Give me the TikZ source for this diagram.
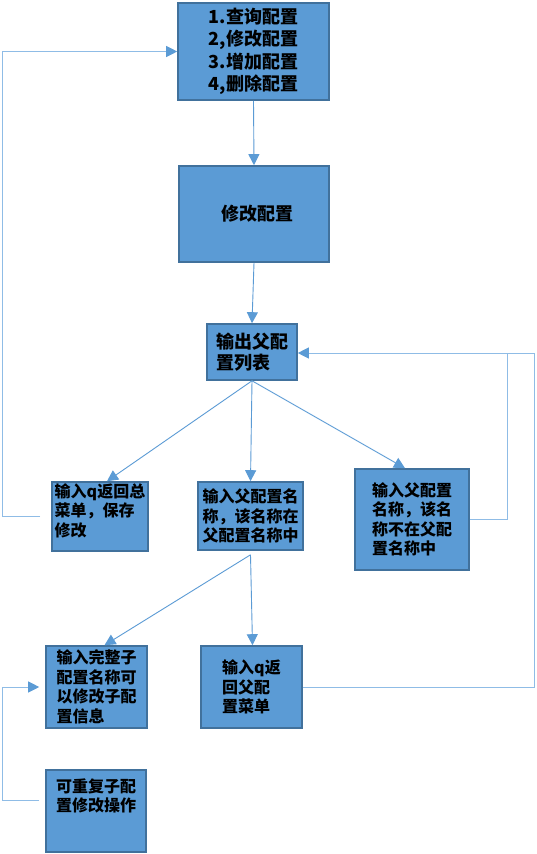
\documentclass[tikz,border=0pt]{standalone}
\usepackage{fontspec}
\setmainfont{Noto Sans CJK SC}
\usetikzlibrary{arrows.meta}
\definecolor{boxfill}{HTML}{5B9BD5}
\definecolor{boxborder}{HTML}{41719C}
\definecolor{lineA}{HTML}{5B9BD5}
\definecolor{lineB}{HTML}{8FBCE6}
\tikzset{
  box/.style={draw=boxborder, fill=boxfill, line width=1.6pt, inner sep=0pt, align=left,
    font=\fontsize{16}{19.5}\selectfont\bfseries, text=black},
  flow/.style={draw=lineA, line width=0.9pt, -{Triangle[length=11pt,width=11pt]}},
  back/.style={draw=lineB, line width=0.9pt},
  backarrow/.style={draw=lineB, line width=0.9pt, -{Triangle[length=11pt,width=11pt,fill=lineA,color=lineA]}}
}
\begin{document}
\begin{tikzpicture}[x=1pt,y=-1pt]
\useasboundingbox (0,0) rectangle (536,854);
\fill[white] (0,0) rectangle (536,854);
% boxes
\node[box, minimum width=151pt, minimum height=97pt, font=\fontsize{18}{22.5}\selectfont\bfseries] (b1) at (253.5,51.5)
  {1.查询配置\\2,修改配置\\3.增加配置\\4,删除配置};
\node[box, minimum width=150pt, minimum height=96pt, font=\fontsize{18}{22}\selectfont\bfseries] (b2) at (254,214) {\hspace*{6pt}修改配置};
\node[box, minimum width=90pt, minimum height=56pt, font=\fontsize{18}{21}\selectfont\bfseries] (b3) at (252,352) {输出父配\\置列表};
\node[box, minimum width=96pt, minimum height=69pt] (b4) at (100,516.5) {输入q返回总\\菜单，保存\\修改\vphantom{菜}\\[-6pt]};
\node[box, minimum width=105pt, minimum height=68pt] (b5) at (250.5,516) {输入父配置名\\称，该名称在\\父配置名称中};
\node[box, minimum width=114pt, minimum height=101pt] (b6) at (412,519.5) {输入父配置\\名称，该名\\称不在父配\\置名称中};
\node[box, minimum width=101pt, minimum height=82pt] (b7) at (96.5,687) {输入完整子\\配置名称可\\以修改子配\\置信息};
\node[box, minimum width=101pt, minimum height=82pt] (b8) at (251.5,687) {输入q返\\回父配\\置菜单};
\node[box, minimum width=100pt, minimum height=82pt] (b9) at (96,811) {可重复子配\\置修改操作\\[12pt]};
% helper coordinates
\coordinate (lx) at (2,300);
\coordinate (rx1) at (507,300);
\coordinate (rx2) at (534,300);
% forward connectors
\draw[flow] (b1.south) -- (b2.north);
\draw[flow] (b2.south) -- (b3.north);
\draw[flow] (b3.south) -- ([xshift=7pt]b4.north);
\draw[flow] (b3.south) -- (b5.north);
\draw[flow] (b3.south) -- ([xshift=-7pt]b6.north);
\draw[flow] ([yshift=-4pt]b5.south) -- ([xshift=8pt]b7.north);
\draw[flow] ([yshift=-4pt]b5.south) -- ([xshift=1pt]b8.north);
% feedback connectors
\draw[backarrow, shorten <=11pt] (b4.west) -- (b4.west -| lx) |- (b1.west);
\draw[backarrow] (b6.east) -- (b6.east -| rx1) |- ([yshift=-1pt]b3.east);
\draw[back] (b8.east) -- (b8.east -| rx2) |- ([yshift=-1pt]b3.east -| rx1);
\draw[backarrow, shorten <=6pt, shorten >=6pt] ([yshift=11pt]b9.west) -- ([yshift=11pt]b9.west -| lx) |- (b7.west);
\end{tikzpicture}
\end{document}
